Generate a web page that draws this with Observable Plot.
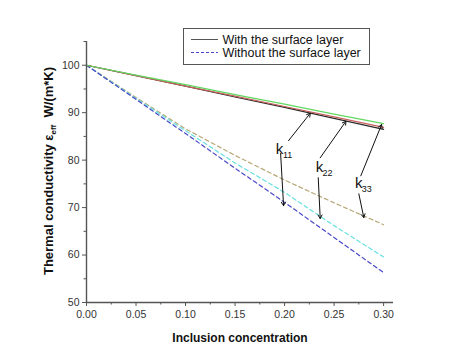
<!DOCTYPE html>
<html><head><meta charset="utf-8">
<script src="https://cdn.jsdelivr.net/npm/d3@7"></script>
<script src="https://cdn.jsdelivr.net/npm/@observablehq/plot@0.6"></script>
<style>body{margin:0;background:#fff;} svg{display:block;}</style>
</head><body><div id="chart"></div>
<script>
// Data
const concentration = [0, 0.05, 0.10, 0.15, 0.20, 0.25, 0.30];
const withK11 = [100, 97.8, 95.6, 93.3, 91.1, 88.8, 86.5];     // black solid
const withK22 = [100, 97.8, 95.6, 93.5, 91.3, 89.1, 86.9];     // red solid
const withK33 = [100, 97.9, 95.9, 93.8, 91.8, 89.7, 87.7];     // green solid
const withoutK11 = [100, 92.8, 85.6, 78.3, 71.1, 63.7, 56.3];  // blue dashed
const withoutK22 = [100, 93.0, 86.2, 79.4, 73.2, 66.2, 59.6];  // cyan dashed
const withoutK33 = [100, 93.2, 86.6, 81.0, 75.8, 71.0, 66.4];  // olive dashed

const xTicks = [0, 0.05, 0.10, 0.15, 0.20, 0.25, 0.30];
const xMinor = [0.025, 0.075, 0.125, 0.175, 0.225, 0.275];
const yTicks = [50, 60, 70, 80, 90, 100];
const yMinor = [55, 65, 75, 85, 95, 105];

const legendLabels = ["With the surface layer", "Without the surface layer"];
const xTitle = "Inclusion concentration";

// annotation arrows (data units)
const arrowX1 = [0.204, 0.196, 0.236, 0.234, 0.277, 0.275];
const arrowY1 = [84.1, 81.4, 80.5, 76.3, 76.7, 72.9];
const arrowX2 = [0.226, 0.199, 0.262, 0.236, 0.298, 0.280];
const arrowY2 = [89.9, 70.4, 88.2, 67.7, 87.5, 67.9];
const kLabelX = [0.195, 0.2353, 0.275];
const kLabelY = [82.3, 78.6, 75.2];
const kSubs = ["11", "22", "33"];

const seriesNames = ["withK11","withK22","withK33","withoutK11","withoutK22","withoutK33"];
const seriesValues = [withK11, withK22, withK33, withoutK11, withoutK22, withoutK33];
const seriesColors = ["#2a2a2a", "#c8605c", "#62d862", "#4848c8", "#66e0e0", "#b8a878"];
const seriesDashed = [false, false, false, true, true, true];

const rows = [];
seriesNames.forEach((s, j) => concentration.forEach((c, i) => rows.push({series: s, x: c, y: seriesValues[j][i]})));
const arrows = arrowX1.map((d, i) => ({x1: d, y1: arrowY1[i], x2: arrowX2[i], y2: arrowY2[i]}));
const kLabels = kLabelX.map((d, i) => ({x: d, y: kLabelY[i], sub: kSubs[i]}));

const FONT = "'Liberation Sans', Arial, Helvetica, sans-serif";
const drawOrder = [5, 4, 3, 0, 1, 2];
const lineMarks = drawOrder.map(j => Plot.line(rows.filter(r => r.series === seriesNames[j]), {
  x: "x", y: "y", stroke: seriesColors[j], strokeWidth: 1.2,
  strokeDasharray: seriesDashed[j] ? "4,3" : null
}));

const chart = Plot.plot({
  width: 474, height: 362,
  marginLeft: 86, marginRight: 81, marginTop: 41, marginBottom: 60,
  style: {fontFamily: FONT, fontSize: "10.5px", color: "#333", background: "white"},
  x: {domain: [0, 0.31]},
  y: {domain: [50, 105]},
  marks: [
    ...lineMarks,
    Plot.arrow(arrows, {x1: "x1", y1: "y1", x2: "x2", y2: "y2", stroke: "#111", strokeWidth: 1, headLength: 6, bend: false}),
    Plot.text(kLabels, {x: "x", y: "y", text: () => "k", fontSize: 15, fill: "#111", lineAnchor: "middle"}),
    Plot.text(kLabels, {x: "x", y: "y", text: "sub", fontSize: 9, fill: "#111", dx: 8, dy: 6, lineAnchor: "middle"}),
    Plot.ruleX([0], {stroke: "#555", strokeWidth: 1.4}),
    Plot.ruleY([50], {stroke: "#555", strokeWidth: 1.4}),
    Plot.axisX(xTicks, {tickFormat: d3.format(".2f"), tickSize: 4, tickPadding: 4, stroke: "#555", fill: "#333", label: null}),
    Plot.axisX(xMinor, {tickFormat: () => "", tickSize: 2.5, stroke: "#555", label: null}),
    Plot.axisY(yTicks, {tickSize: 4, tickPadding: 3, stroke: "#555", fill: "#333", label: null}),
    Plot.axisY(yMinor, {tickFormat: () => "", tickSize: 2.5, stroke: "#555", label: null}),
    Plot.text([xTitle], {frameAnchor: "bottom", dy: 31, text: d => d, fontWeight: "bold", fontSize: 12, fill: "#111", lineAnchor: "top"})
  ]
});

const svg = d3.select(chart);
// Y axis title with subscript
const yt = svg.append("text")
  .attr("transform", "translate(53,171) rotate(-90)")
  .attr("text-anchor", "middle")
  .attr("font-family", FONT).attr("font-weight", "bold").attr("font-size", 13).attr("fill", "#111");
yt.append("tspan").text("Thermal conductivity ε");
yt.append("tspan").attr("font-size", 8).attr("dy", 3).text("eff");
yt.append("tspan").attr("dy", -3).text("  W/(m*K)");

// Legend
const lg = svg.append("g").attr("font-family", FONT).attr("font-size", 12.5).attr("fill", "#111").attr("text-anchor", "start");
lg.append("rect").attr("x", 183.5).attr("y", 28.5).attr("width", 186).attr("height", 36)
  .attr("fill", "white").attr("stroke", "#555").attr("stroke-width", 1);
lg.append("line").attr("x1", 191).attr("x2", 218).attr("y1", 39.5).attr("y2", 39.5).attr("stroke", "#555").attr("stroke-width", 1);
lg.append("line").attr("x1", 191).attr("x2", 218).attr("y1", 52.5).attr("y2", 52.5).attr("stroke", "#4848c8").attr("stroke-width", 1).attr("stroke-dasharray", "3,2");
lg.append("text").attr("x", 222.5).attr("y", 44).attr("text-anchor", "start").text(legendLabels[0]);
lg.append("text").attr("x", 222.5).attr("y", 57).attr("text-anchor", "start").text(legendLabels[1]);

document.getElementById("chart").appendChild(chart);
</script>
</body></html>
